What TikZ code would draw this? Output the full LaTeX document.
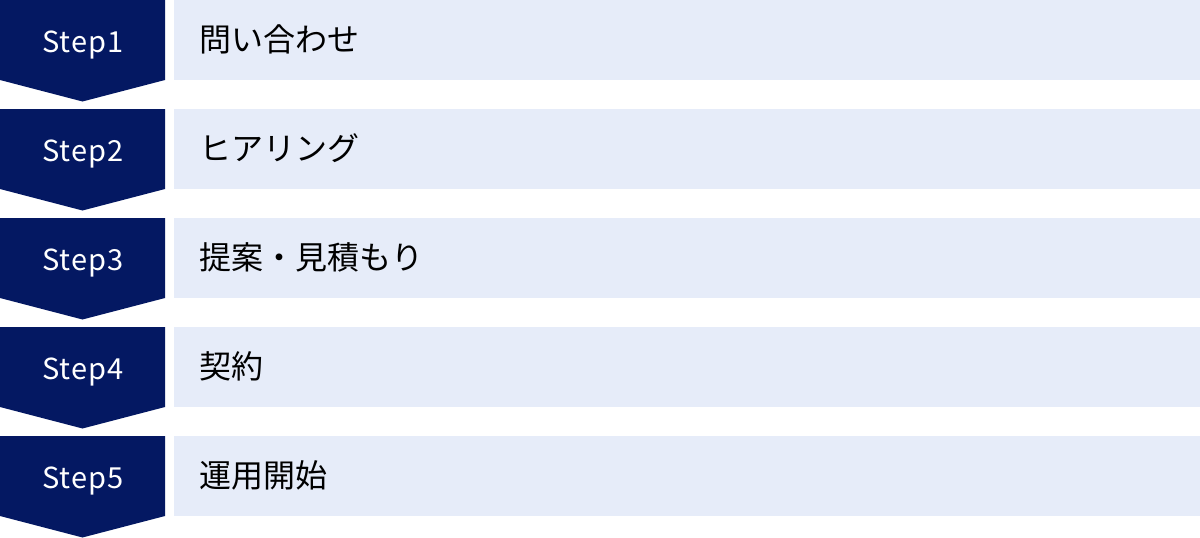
\documentclass[tikz,border=0pt]{standalone}
\usepackage{fontspec}
\newfontfamily\jp{Noto Sans CJK JP}
\newfontfamily\jpspaced[LetterSpace=4]{Noto Sans CJK JP}
\definecolor{navy}{HTML}{041862}
\definecolor{pale}{HTML}{E6ECF9}
\begin{document}
\begin{tikzpicture}[x=1pt,y=-1pt,
  steplabel/.style={text=white,inner sep=0pt,anchor=base,font=\jpspaced\fontsize{29}{34}\selectfont},
  itemlabel/.style={text=black,inner sep=0pt,anchor=base west,font=\jp\fontsize{32}{38}\selectfont}]
\useasboundingbox (0,0) rectangle (1200,538);
\foreach \i/\t [count=\n from 1] in {0/問い合わせ,1/ヒアリング,2/提案・見積もり,3/契約,4/運用開始}{
  \pgfmathsetmacro\top{109*\i}
  \fill[navy] (0,\top) -- (165,\top) -- (165,\top+80) -- (82.5,\top+101.5) -- (0,\top+80) -- cycle;
  \fill[pale] (174,\top) rectangle (1200,\top+80);
  \node[steplabel] (step\n) at (83,\top+52.7) {Step\n};
  \node[itemlabel] (item\n) at (199,\top+51.5) {\t};
}
\end{tikzpicture}
\end{document}
